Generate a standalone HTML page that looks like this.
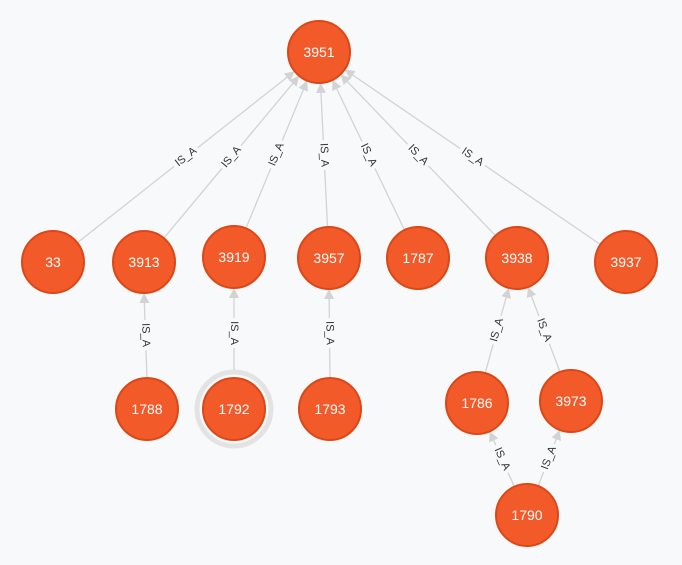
<!DOCTYPE html>
<html><head><meta charset="utf-8"><style>
html,body{margin:0;padding:0;background:#f8f9fa;}
svg{display:block;}
.e{stroke:#d3d3d3;stroke-width:1.3;fill:none;marker-end:url(#a);}
.lb rect{fill:#f8f9fa;}
.lb text{font-family:"Liberation Sans",sans-serif;font-size:11px;fill:#333;text-anchor:middle;dominant-baseline:central;}
.n circle{fill:#f25a29;stroke:#dc4717;stroke-width:2;}
.n text{font-family:"Liberation Sans",sans-serif;font-size:14px;fill:#fff;text-anchor:middle;dominant-baseline:central;}
</style></head><body>
<svg width="682" height="565" viewBox="0 0 682 565">
<defs><marker id="a" markerUnits="userSpaceOnUse" markerWidth="12" markerHeight="12" refX="10" refY="6" orient="auto"><path d="M0,1 L10,6 L0,11 z" fill="#d3d3d3"/></marker></defs>
<line class="e" x1="77.3" y1="242.8" x2="294.7" y2="71.2"/>
<line class="e" x1="163.8" y1="238.2" x2="299.2" y2="75.8"/>
<line class="e" x1="245.9" y1="228.4" x2="307.1" y2="80.6"/>
<line class="e" x1="327.5" y1="227" x2="320.5" y2="83"/>
<line class="e" x1="404.6" y1="230.1" x2="332.4" y2="79.9"/>
<line class="e" x1="495.5" y1="235.6" x2="340.5" y2="74.4"/>
<line class="e" x1="600.4" y1="244.5" x2="344.6" y2="69.5"/>
<line class="e" x1="147" y1="378" x2="144" y2="293"/>
<line class="e" x1="234" y1="372" x2="234" y2="288"/>
<line class="e" x1="330" y1="378" x2="329" y2="289"/>
<line class="e" x1="485.2" y1="373.1" x2="508.8" y2="287.9"/>
<line class="e" x1="560" y1="372" x2="528" y2="287"/>
<line class="e" x1="514.4" y1="486.7" x2="489.6" y2="431.3"/>
<line class="e" x1="538.2" y1="486.1" x2="559.8" y2="429.9"/>
<g class="lb">
<g transform="translate(186,157) rotate(-38.3)"><rect x="-15" y="-6" width="30" height="12"/><text>IS_A</text></g>
<g transform="translate(231.5,157) rotate(-50.2)"><rect x="-15" y="-6" width="30" height="12"/><text>IS_A</text></g>
<g transform="translate(276.5,154.5) rotate(-67.5)"><rect x="-15" y="-6" width="30" height="12"/><text>IS_A</text></g>
<g transform="translate(324,155) rotate(87.2)"><rect x="-15" y="-6" width="30" height="12"/><text>IS_A</text></g>
<g transform="translate(368.5,155) rotate(64.3)"><rect x="-15" y="-6" width="30" height="12"/><text>IS_A</text></g>
<g transform="translate(418,155) rotate(46.1)"><rect x="-15" y="-6" width="30" height="12"/><text>IS_A</text></g>
<g transform="translate(472.5,157) rotate(34.4)"><rect x="-15" y="-6" width="30" height="12"/><text>IS_A</text></g>
<g transform="translate(145.5,335) rotate(88)"><rect x="-15" y="-6" width="30" height="12"/><text>IS_A</text></g>
<g transform="translate(234,333) rotate(90)"><rect x="-15" y="-6" width="30" height="12"/><text>IS_A</text></g>
<g transform="translate(329.5,333) rotate(89)"><rect x="-15" y="-6" width="30" height="12"/><text>IS_A</text></g>
<g transform="translate(497,330) rotate(-74.6)"><rect x="-15" y="-6" width="30" height="12"/><text>IS_A</text></g>
<g transform="translate(544,330) rotate(69.3)"><rect x="-15" y="-6" width="30" height="12"/><text>IS_A</text></g>
<g transform="translate(502,459) rotate(66)"><rect x="-15" y="-6" width="30" height="12"/><text>IS_A</text></g>
<g transform="translate(549,458) rotate(-68.9)"><rect x="-15" y="-6" width="30" height="12"/><text>IS_A</text></g>
</g>
<circle cx="234" cy="409" r="37" fill="none" stroke="#e3e3e3" stroke-width="5"/>
<g class="n">
<circle cx="319" cy="52" r="31"/><text x="319" y="52">3951</text>
<circle cx="53" cy="262" r="31"/><text x="53" y="262">33</text>
<circle cx="144" cy="262" r="31"/><text x="144" y="262">3913</text>
<circle cx="234" cy="257" r="31"/><text x="234" y="257">3919</text>
<circle cx="329" cy="258" r="31"/><text x="329" y="258">3957</text>
<circle cx="418" cy="258" r="31"/><text x="418" y="258">1787</text>
<circle cx="517" cy="258" r="31"/><text x="517" y="258">3938</text>
<circle cx="626" cy="262" r="31"/><text x="626" y="262">3937</text>
<circle cx="147" cy="409" r="31"/><text x="147" y="409">1788</text>
<circle cx="234" cy="409" r="31"/><text x="234" y="409">1792</text>
<circle cx="330" cy="409" r="31"/><text x="330" y="409">1793</text>
<circle cx="477" cy="403" r="31"/><text x="477" y="403">1786</text>
<circle cx="571" cy="401" r="31"/><text x="571" y="401">3973</text>
<circle cx="527" cy="515" r="31"/><text x="527" y="515">1790</text>
</g>
</svg>
</body></html>
